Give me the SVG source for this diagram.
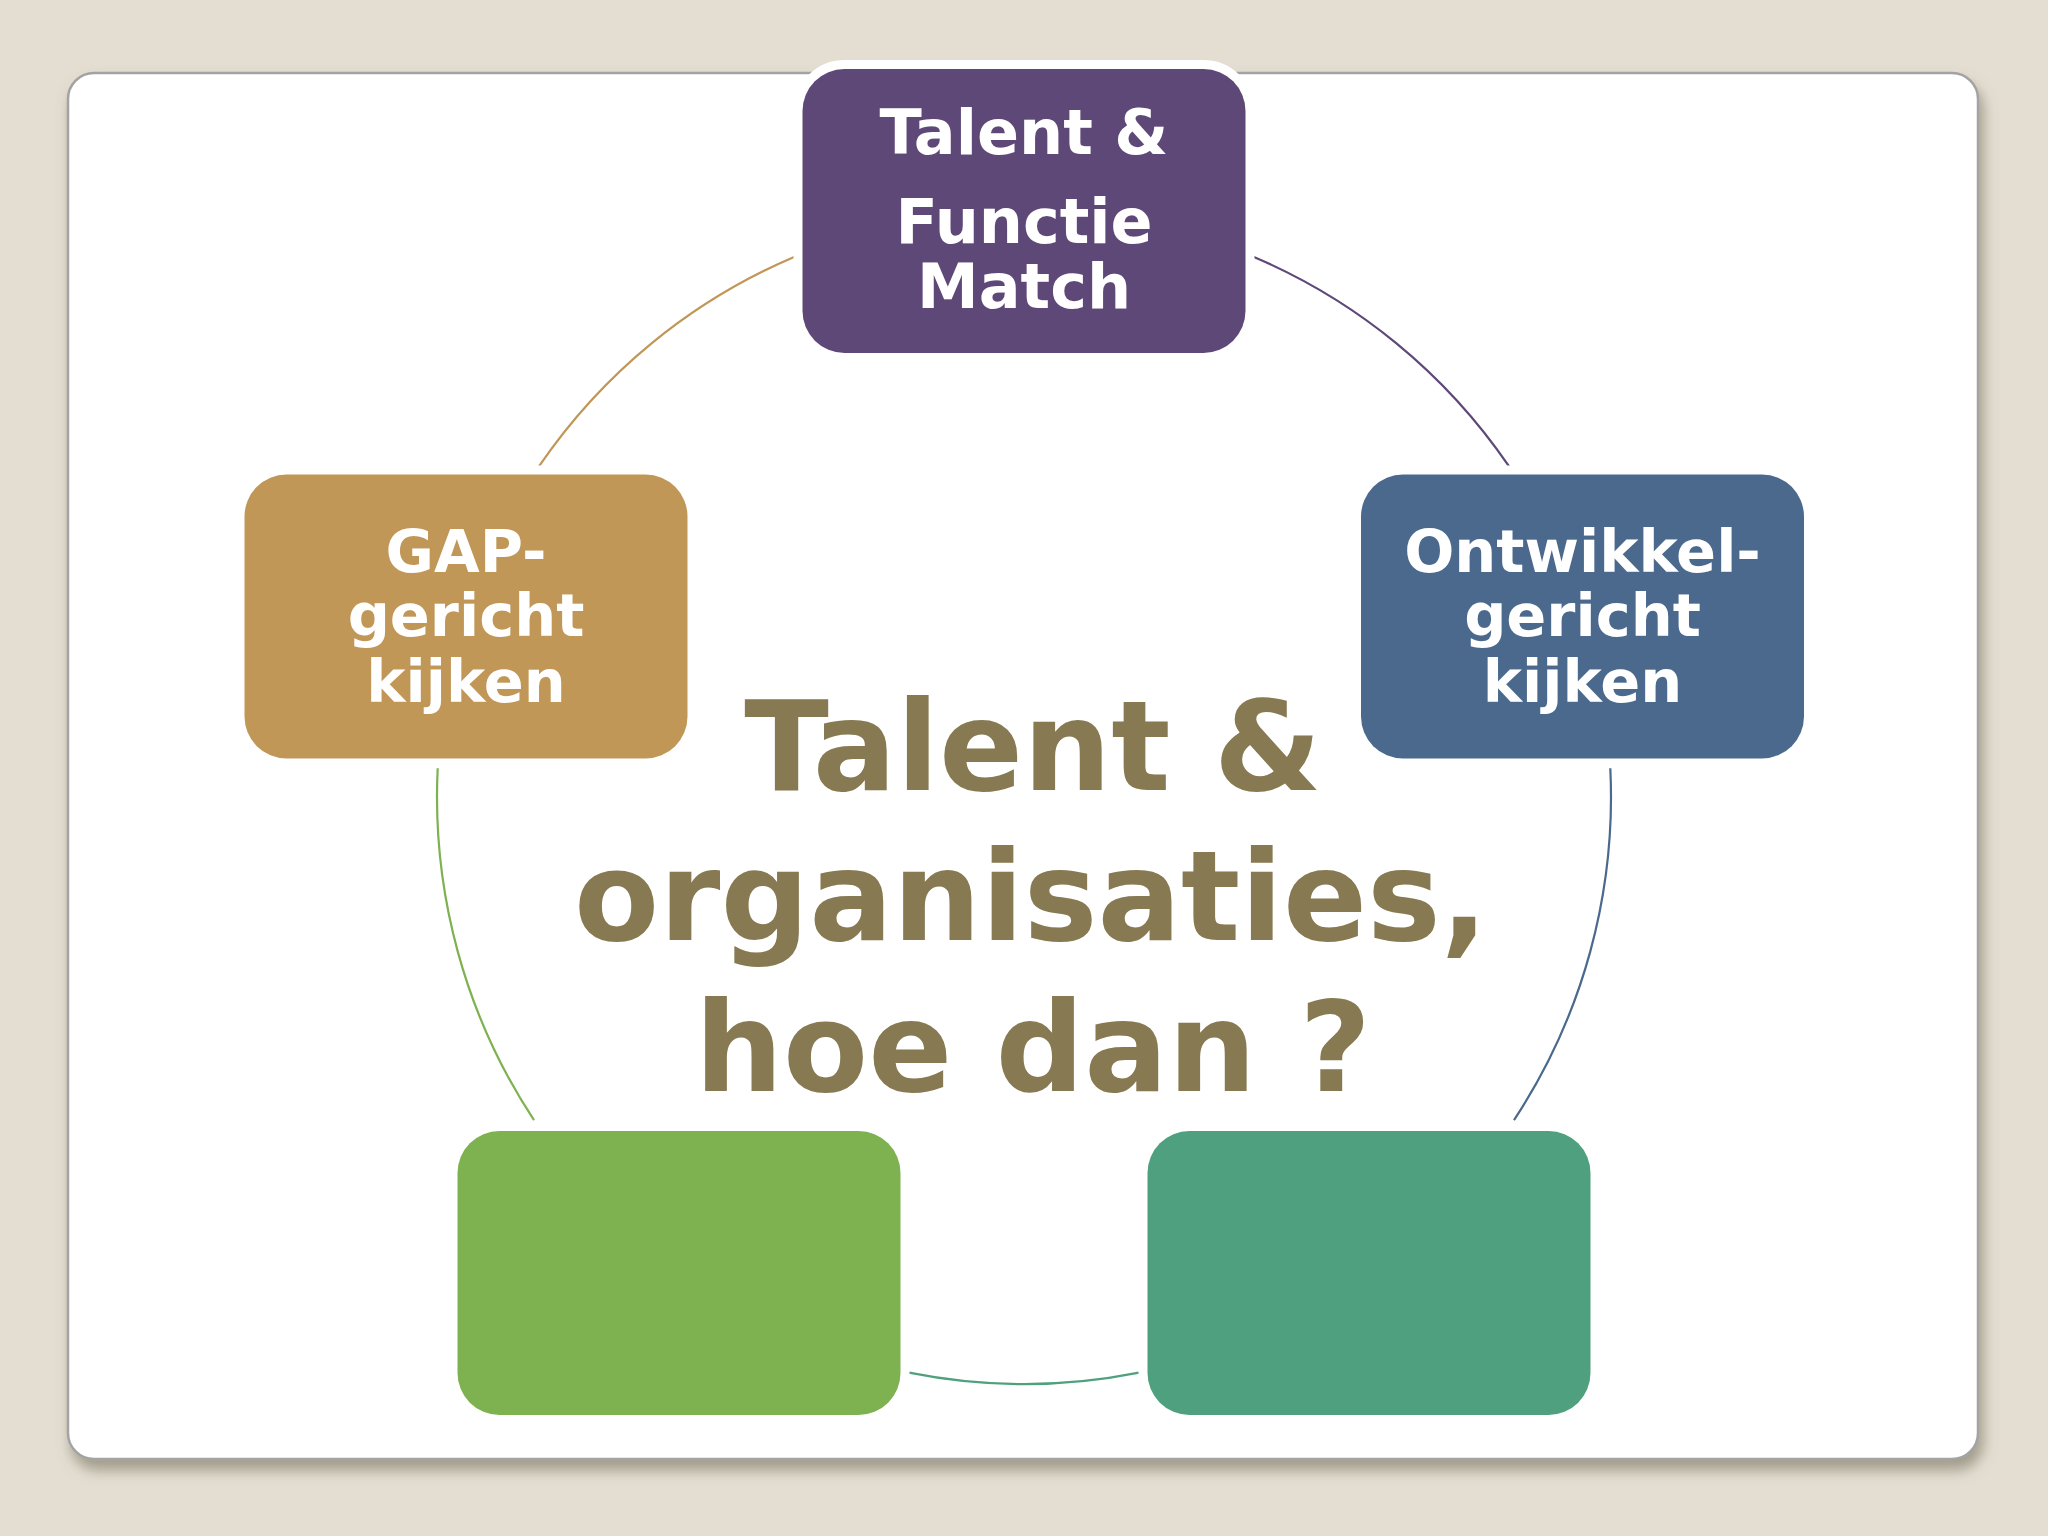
<svg xmlns="http://www.w3.org/2000/svg" width="2048" height="1536" viewBox="0 0 2048 1536">
<defs>
<filter id="sh" x="-5%" y="-5%" width="110%" height="112%">
<feDropShadow dx="4" dy="10" stdDeviation="7" flood-color="#6b6450" flood-opacity="0.55"/>
</filter>
<style>
.node{stroke:#ffffff;stroke-width:18;paint-order:stroke}
.lbl{font-family:"DejaVu Sans",Verdana,sans-serif;font-weight:bold;fill:#ffffff;text-anchor:middle}
.arc{fill:none;stroke-width:2.2}
.title{font-family:"DejaVu Sans",Verdana,sans-serif;font-weight:bold;fill:#877951;text-anchor:middle;font-size:124px}
</style>
</defs>
<rect x="0" y="0" width="2048" height="1536" fill="#e4ded2"/>
<rect x="68" y="73" width="1910" height="1386" rx="26" fill="#ffffff" stroke="#a3a3a3" stroke-width="2.5" filter="url(#sh)"/>
<g id="connectors">
<path class="arc" stroke="#5e4878" d="M 1253.3 256.7 A 587 587 0 0 1 1508.9 466.2"/>
<path class="arc" stroke="#4a698d" d="M 1610.3 768.3 A 587 587 0 0 1 1514 1120.1"/>
<path class="arc" stroke="#4ea07e" d="M 1139 1372.6 A 587 587 0 0 1 909 1372.6"/>
<path class="arc" stroke="#7eb150" d="M 534 1120.1 A 587 587 0 0 1 437.7 768.3"/>
<path class="arc" stroke="#c19758" d="M 539.1 466.2 A 587 587 0 0 1 794.7 256.7"/>
</g>
<g id="title">
<text class="title" x="1033" y="790">Talent &amp;</text>
<text class="title" x="1031" y="940">organisaties,</text>
<text class="title" x="1033" y="1091">hoe dan ?</text>
</g>
<g id="node-top">
<rect class="node" x="802.5" y="69" width="443" height="284" rx="42" fill="#5e4878"/>
<text class="lbl" x="1024" y="154" font-size="62">Talent &amp;</text>
<text class="lbl" x="1024" y="243" font-size="62">Functie</text>
<text class="lbl" x="1024" y="308" font-size="62">Match</text>
</g>
<g id="node-left">
<rect class="node" x="244.5" y="474.5" width="443" height="284" rx="42" fill="#c19758"/>
<text class="lbl" x="466" y="572" font-size="59">GAP-</text>
<text class="lbl" x="466" y="636" font-size="59">gericht</text>
<text class="lbl" x="466" y="702" font-size="59">kijken</text>
</g>
<g id="node-right">
<rect class="node" x="1361" y="474.5" width="443" height="284" rx="42" fill="#4a698d"/>
<text class="lbl" x="1582.5" y="572" font-size="59">Ontwikkel-</text>
<text class="lbl" x="1582.5" y="636" font-size="59">gericht</text>
<text class="lbl" x="1582.5" y="702" font-size="59">kijken</text>
</g>
<g id="node-bottom-left">
<rect class="node" x="457.5" y="1131" width="443" height="284" rx="42" fill="#7eb150"/>
</g>
<g id="node-bottom-right">
<rect class="node" x="1147.5" y="1131" width="443" height="284" rx="42" fill="#4ea07e"/>
</g>
</svg>
